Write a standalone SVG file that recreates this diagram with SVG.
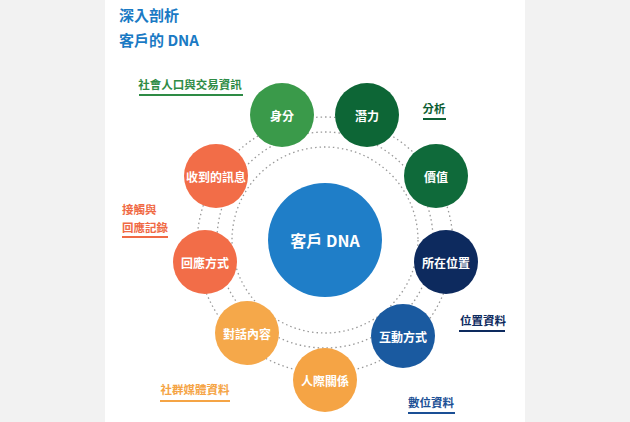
<svg xmlns="http://www.w3.org/2000/svg" width="630" height="422" viewBox="0 0 630 422">
<style>
text{font-family:"Noto Sans CJK TC","Noto Sans",sans-serif;font-weight:bold}
.n text{fill:#fff;font-size:12px;text-anchor:middle;dominant-baseline:central}
.ring{fill:none;stroke:#999;stroke-width:1.3;stroke-dasharray:1.5 3}
.lb{font-size:11.5px}
.ul{stroke-width:2}
</style>
<rect width="630" height="422" fill="#f2f2f2"/>
<rect x="105" y="0" width="420" height="422" fill="#fff"/>
<text x="119" y="21" font-size="15" fill="#1a7ac4">深入剖析</text>
<text x="119" y="46" font-size="15" fill="#1a7ac4">客戶的 DNA</text>
<g id="connectors">
<circle class="ring" cx="325" cy="240" r="93"/>
<circle class="ring" cx="325" cy="240" r="108"/>
<circle class="ring" cx="325" cy="245" r="128"/>
</g>
<g id="labels">
<text class="lb" x="190" y="89" fill="#2e8b45" text-anchor="middle">社會人口與交易資訊</text>
<line class="ul" x1="139" y1="95" x2="243" y2="95" stroke="#2e8b45"/>
<text class="lb" x="434" y="113" fill="#0d5e33" text-anchor="middle">分析</text>
<line class="ul" x1="423" y1="119" x2="446" y2="119" stroke="#0d5e33"/>
<text class="lb" x="122" y="214" fill="#f06a45">接觸與</text>
<text class="lb" x="122" y="232" fill="#f06a45">回應記錄</text>
<line class="ul" x1="122" y1="237" x2="168" y2="237" stroke="#f06a45"/>
<text class="lb" x="483" y="325" fill="#0d2a5e" text-anchor="middle">位置資料</text>
<line class="ul" x1="459" y1="331" x2="505" y2="331" stroke="#0d2a5e"/>
<text class="lb" x="431" y="407" fill="#1a4f95" text-anchor="middle">數位資料</text>
<line class="ul" x1="408" y1="413" x2="455" y2="413" stroke="#1a4f95"/>
<text class="lb" x="195" y="394" fill="#f5a445" text-anchor="middle">社群媒體資料</text>
<line class="ul" x1="160" y1="401" x2="230" y2="401" stroke="#f5a445"/>
</g>
<g id="center" class="n"><circle cx="325" cy="240" r="57" fill="#1f7ec8"/><text x="325" y="240" style="font-size:16px">客戶 DNA</text></g>
<g id="n1" class="n"><circle cx="282" cy="115" r="32" fill="#3a9a4a"/><text x="282" y="115">身分</text></g>
<g id="n2" class="n"><circle cx="367" cy="115" r="32" fill="#0d6636"/><text x="367" y="115">潛力</text></g>
<g id="n3" class="n"><circle cx="436" cy="176" r="32" fill="#0f6a3a"/><text x="436" y="176">價值</text></g>
<g id="n4" class="n"><circle cx="446" cy="262" r="32" fill="#0d2a5e"/><text x="446" y="262">所在位置</text></g>
<g id="n5" class="n"><circle cx="403" cy="336" r="32" fill="#1a5aa0"/><text x="403" y="336">互動方式</text></g>
<g id="n6" class="n"><circle cx="325" cy="380" r="32" fill="#f5a445"/><text x="325" y="380">人際關係</text></g>
<g id="n7" class="n"><circle cx="247" cy="333" r="32" fill="#f5a84a"/><text x="247" y="333">對話內容</text></g>
<g id="n8" class="n"><circle cx="205" cy="262" r="32" fill="#f26d48"/><text x="205" y="262">回應方式</text></g>
<g id="n9" class="n"><circle cx="216" cy="176" r="32" fill="#f26d48"/><text x="216" y="176">收到的訊息</text></g>
</svg>
